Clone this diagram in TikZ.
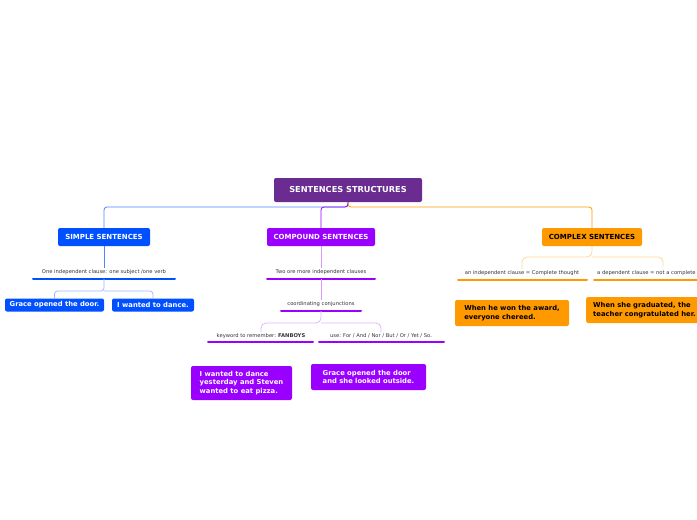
\documentclass[tikz,border=0pt]{standalone}
\usepackage{fontspec}
\setmainfont{DejaVu Sans}
\usetikzlibrary{positioning}
\definecolor{rootc}{HTML}{6A2C91}
\definecolor{bluec}{HTML}{0050FF}
\definecolor{purpc}{HTML}{9900FF}
\definecolor{orac}{HTML}{FF9900}
\begin{document}
\begin{tikzpicture}[x=1pt,y=-1pt,
  topic/.style={rounded corners=2pt,inner sep=0pt,text=white,font=\fontsize{7}{8}\selectfont\bfseries},
  leaf/.style={rounded corners=2pt,inner sep=0pt,text=white,align=left,font=\fontsize{6.8}{8.5}\selectfont\bfseries},
  lab/.style={font=\fontsize{5.2}{6}\selectfont,text=black!80,inner sep=1pt},
  uline/.style={line width=2pt,line cap=round},
  conn/.style={line width=0.8pt,rounded corners=3pt}]
\useasboundingbox (0,0) rectangle (697,520);

\node[topic,fill=rootc,minimum width=148pt,minimum height=24pt,font=\fontsize{8.2}{9}\selectfont\bfseries] (root) at (348,190) {SENTENCES STRUCTURES};
\node[topic,fill=bluec,minimum width=92pt,minimum height=18pt] (simple) at (104,237) {SIMPLE SENTENCES};
\node[topic,fill=purpc,minimum width=108pt,minimum height=18pt] (compound) at (321,237) {COMPOUND SENTENCES};
\node[topic,fill=orac,text=black,minimum width=100pt,minimum height=18pt] (complex) at (592,237) {COMPLEX SENTENCES};

\draw[conn,bluec!70] (root.south) |- (226,207) -| (simple.north);
\draw[conn,purpc] (root.south) |- (321,207) -- (compound.north);
\draw[conn,orac] (root.south) |- (592,207) -- (complex.north);

% simple
\node[lab] (s1) at (104,272) {One independent clause: one subject /one verb};
\draw[uline,bluec] (33,279) coordinate (s1a) -- (175,279) coordinate (s1b);
\node[leaf,fill=bluec,minimum width=99pt,minimum height=13pt,align=center] (g1) at (54.5,305) {Grace opened the door.};
\node[leaf,fill=bluec,minimum width=82pt,minimum height=13pt,align=center] (g2) at (153,305) {I wanted to dance.};
\draw[conn,bluec!70] (simple.south) -- (s1);
\coordinate (sj) at (104,279);
\draw[conn,bluec!40] (sj) -- (104,291) -| (g1.north);
\draw[conn,bluec!40] (104,291) -| (g2.north);

% compound
\node[lab] (c1) at (321,272) {Two ore more independent clauses};
\draw[uline,purpc] (267,279) coordinate (c1a) -- (375,279) coordinate (cj);
\node[lab] (c2) at (321,304) {coordinating conjunctions};
\draw[uline,purpc] (281,311) -- (361,311) coordinate (c2b);
\draw[conn,purpc!40] (compound.south) -- (c1);
\draw[conn,purpc!40] (321,279) -- (c2);
\node[lab] (c3) at (261,336) {keyword to remember: \textbf{FANBOYS}};
\draw[uline,purpc] (208,342) -- (313,342);
\node[lab] (c4) at (381,336) {use: For / And / Nor / But / Or / Yet / So.};
\draw[uline,purpc] (319,342) -- (444,342);
\draw[conn,purpc!30,rounded corners=5pt] (321,311) -- (321,323) -| (c3.north);
\draw[conn,purpc!30,rounded corners=5pt] (321,323) -| (c4.north);
\node[leaf,fill=purpc,minimum width=101pt,minimum height=34pt,inner xsep=7pt] (e1) at (241.5,383) {I wanted to dance\\yesterday and Steven\\wanted to eat pizza.};
\node[leaf,fill=purpc,minimum width=115pt,minimum height=26pt,inner xsep=8pt] (e2) at (368.5,377) {Grace opened the door\\and she looked outside.\hspace{22pt}};

% complex
\node[lab] (x1) at (522,273) {an independent clause = Complete thought};
\draw[uline,orac] (458,280) -- (587,280);
\node[lab,anchor=west] (x2) at (596,273) {a dependent clause = not a complete thought};
\draw[uline,orac] (594,280) -- (720,280);
\draw[conn,orac!40,rounded corners=5pt] (complex.south) -- (592,257) -| (x1.north);
\draw[conn,orac!40,rounded corners=5pt] (592,257) -| (663,267);
\node[leaf,fill=orac,text=black,minimum width=114pt,minimum height=26pt,inner xsep=8pt] (o1) at (512,313) {When he won the award,\\everyone chereed.\hspace{10pt}};
\node[leaf,fill=orac,text=black,anchor=west,minimum height=26pt,inner xsep=7pt] (o2) at (586,310) {When she graduated, the\\teacher congratulated her.};
\end{tikzpicture}
\end{document}
